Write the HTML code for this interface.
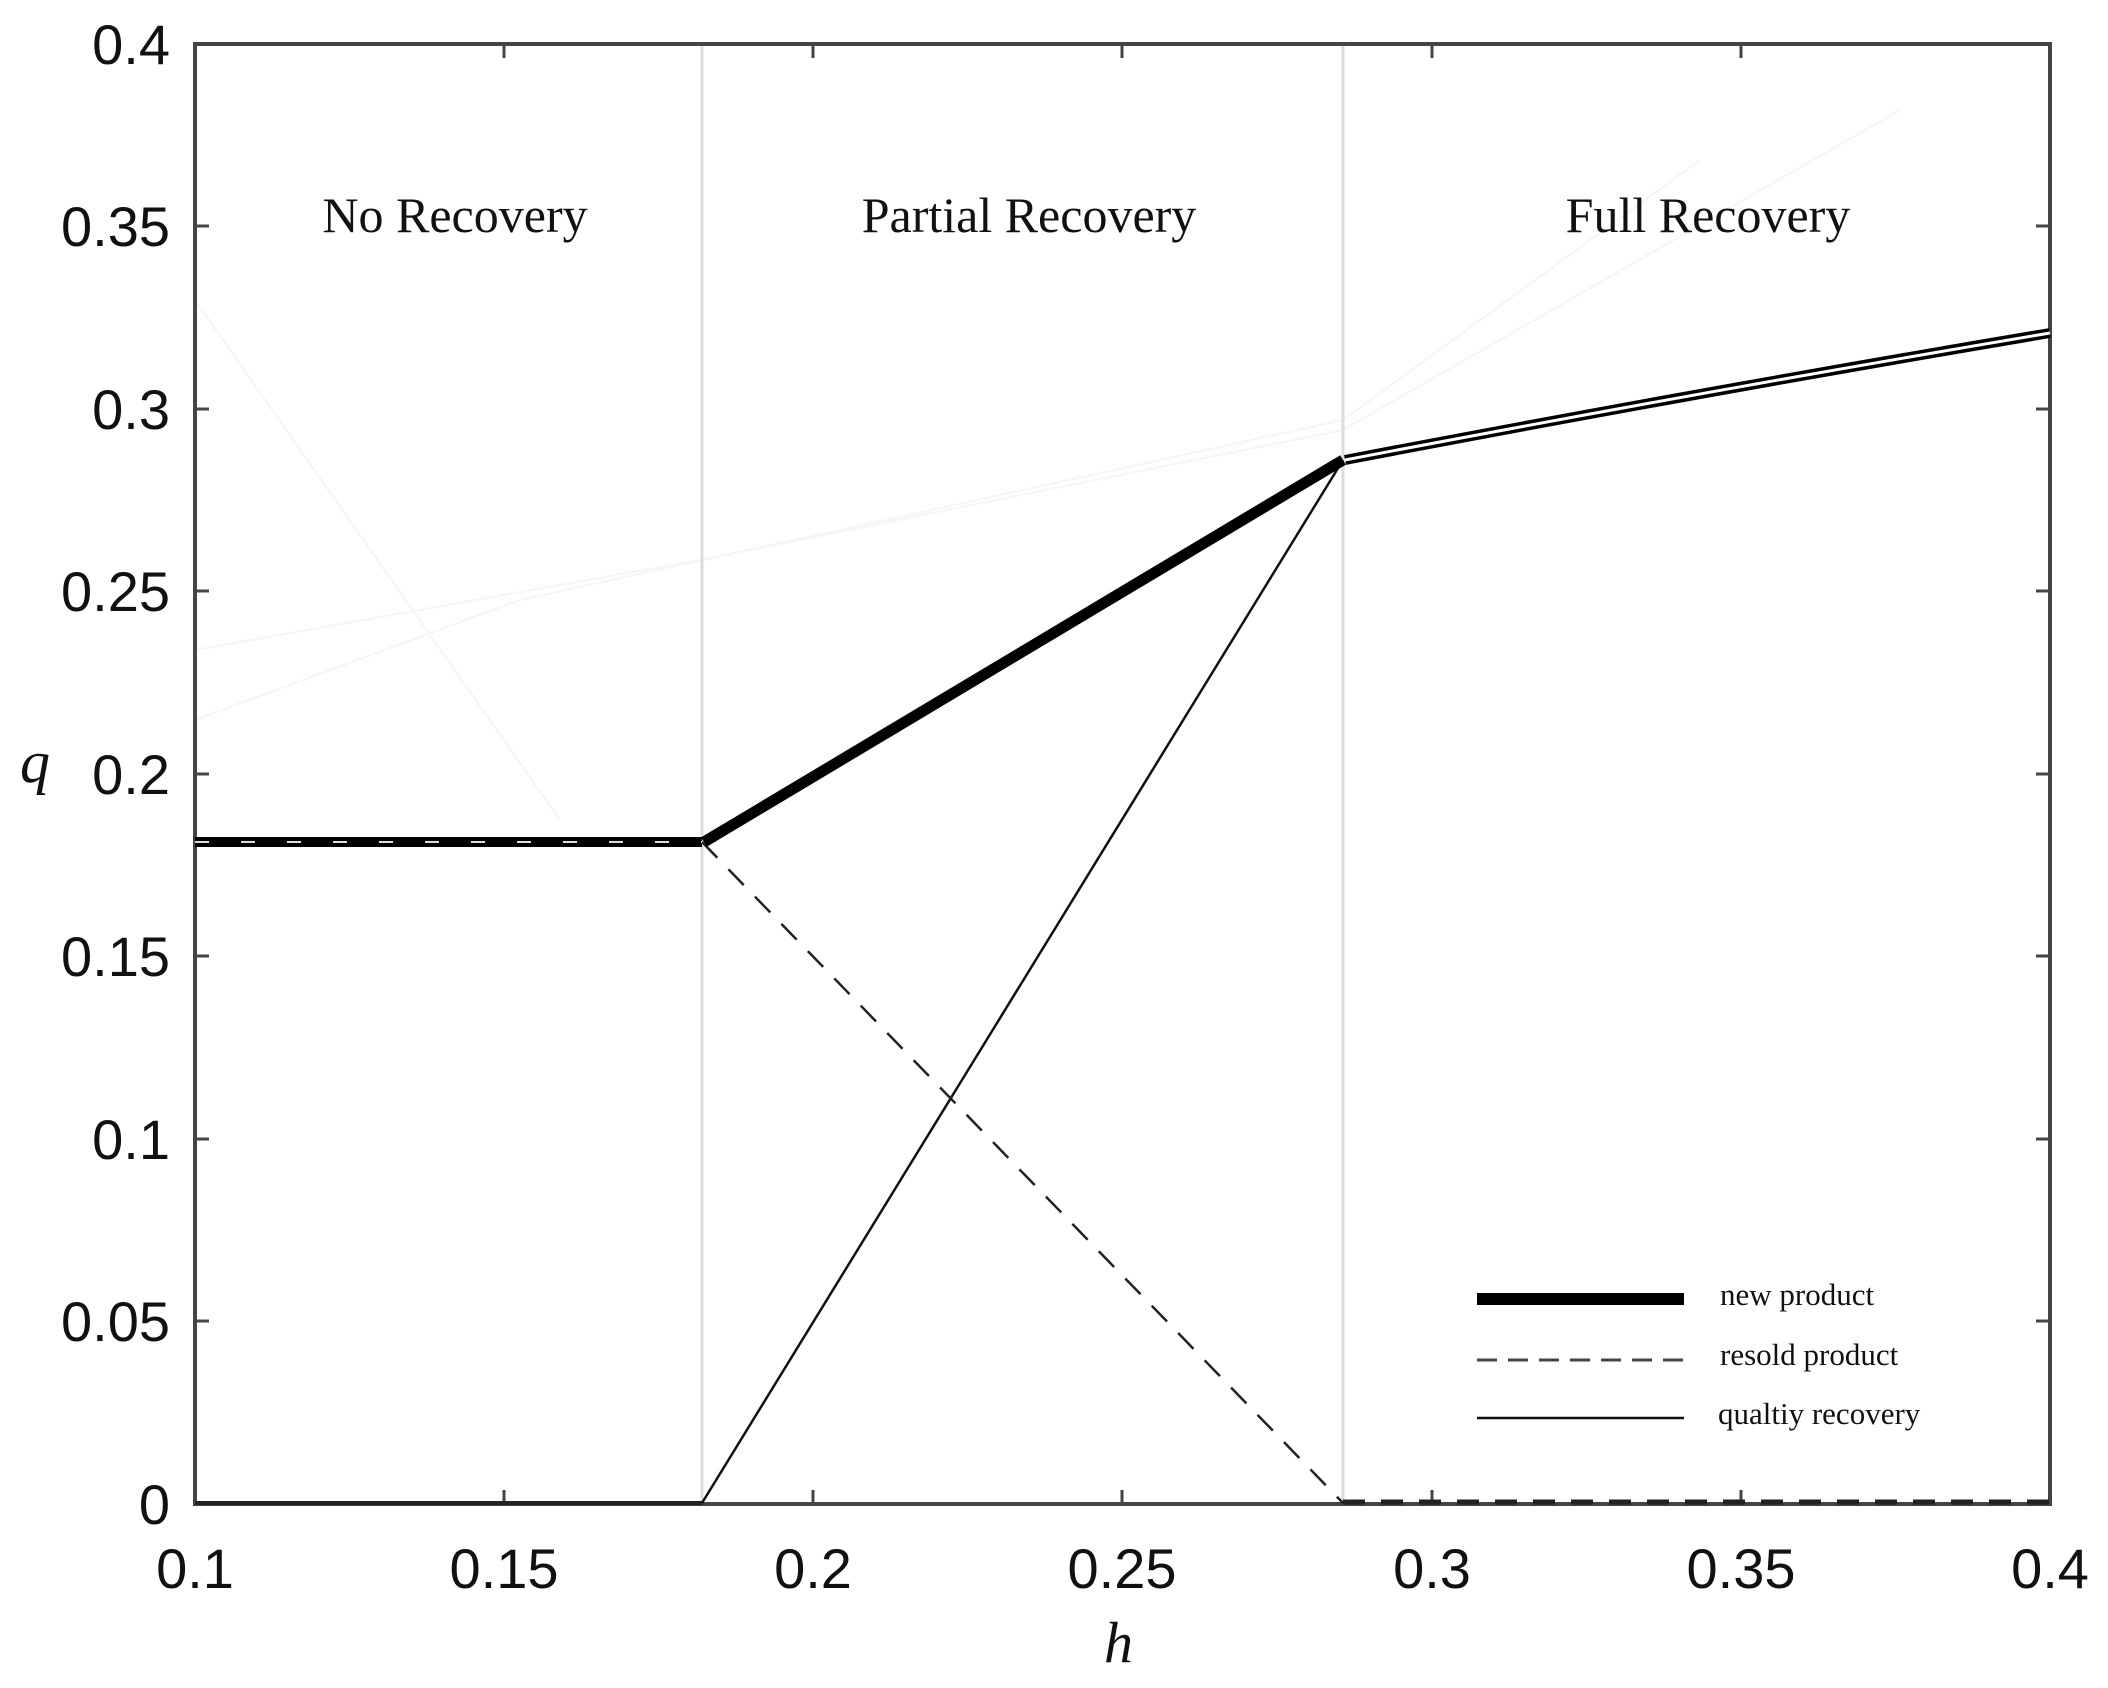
<!DOCTYPE html>
<html><head><meta charset="utf-8"><style>html,body{margin:0;padding:0;background:#fff}svg{display:block}</style></head>
<body>
<svg width="2108" height="1688" viewBox="0 0 2108 1688" xmlns="http://www.w3.org/2000/svg">
<rect width="2108" height="1688" fill="#fff"/>
<g stroke="#f5f5f5" stroke-width="2" fill="none">
<polyline points="195,300 560,820"/>
<polyline points="195,720 520,600 1343,420 1700,160"/>
<polyline points="195,650 700,560 1343,430 1900,110"/>
</g>
<line x1="702" y1="44" x2="702" y2="1504" stroke="#dcdcdc" stroke-width="3"/>
<line x1="1343" y1="44" x2="1343" y2="1504" stroke="#dcdcdc" stroke-width="3"/>
<rect x="195" y="44" width="1855" height="1460" fill="none" stroke="#444" stroke-width="4"/>
<g stroke="#444" stroke-width="3">
<line x1="504" y1="1504" x2="504" y2="1490"/><line x1="504" y1="44" x2="504" y2="58"/>
<line x1="813" y1="1504" x2="813" y2="1490"/><line x1="813" y1="44" x2="813" y2="58"/>
<line x1="1122" y1="1504" x2="1122" y2="1490"/><line x1="1122" y1="44" x2="1122" y2="58"/>
<line x1="1432" y1="1504" x2="1432" y2="1490"/><line x1="1432" y1="44" x2="1432" y2="58"/>
<line x1="1741" y1="1504" x2="1741" y2="1490"/><line x1="1741" y1="44" x2="1741" y2="58"/>
<line x1="195" y1="1321" x2="209" y2="1321"/><line x1="2050" y1="1321" x2="2036" y2="1321"/>
<line x1="195" y1="1139" x2="209" y2="1139"/><line x1="2050" y1="1139" x2="2036" y2="1139"/>
<line x1="195" y1="956" x2="209" y2="956"/><line x1="2050" y1="956" x2="2036" y2="956"/>
<line x1="195" y1="774" x2="209" y2="774"/><line x1="2050" y1="774" x2="2036" y2="774"/>
<line x1="195" y1="591" x2="209" y2="591"/><line x1="2050" y1="591" x2="2036" y2="591"/>
<line x1="195" y1="409" x2="209" y2="409"/><line x1="2050" y1="409" x2="2036" y2="409"/>
<line x1="195" y1="226" x2="209" y2="226"/><line x1="2050" y1="226" x2="2036" y2="226"/>
</g>
<line x1="195" y1="1503" x2="702" y2="1503" stroke="#222" stroke-width="4"/>
<line x1="702" y1="1503" x2="1343" y2="460" stroke="#111" stroke-width="2.5"/>
<line x1="702" y1="842" x2="1343" y2="1503" stroke="#222" stroke-width="2.5" stroke-dasharray="22,16"/>
<line x1="1343" y1="1502" x2="2050" y2="1502" stroke="#222" stroke-width="5" stroke-dasharray="22,16"/>
<line x1="195" y1="842" x2="702" y2="842" stroke="#000" stroke-width="10"/>
<line x1="195" y1="842" x2="702" y2="842" stroke="#ddd" stroke-width="2" stroke-dasharray="14,32"/>
<line x1="704" y1="842" x2="1343" y2="460" stroke="#000" stroke-width="11"/>
<path d="M1345,460 Q1700,392 2050,333" stroke="#000" stroke-width="10" fill="none"/>
<path d="M1345,460 Q1700,392 2050,333" stroke="#fff" stroke-width="3" fill="none"/>
<line x1="1477" y1="1299" x2="1684" y2="1299" stroke="#000" stroke-width="12"/>
<line x1="1477" y1="1360" x2="1684" y2="1360" stroke="#444" stroke-width="3" stroke-dasharray="20,11"/>
<line x1="1477" y1="1418" x2="1684" y2="1418" stroke="#111" stroke-width="2.5"/>
<g font-family="Liberation Serif, serif" font-size="31" fill="#111">
<text x="1720" y="1305">new product</text>
<text x="1720" y="1365">resold product</text>
<text x="1718" y="1424">qualtiy recovery</text>
</g>
<g font-family="Liberation Serif, serif" font-size="50" fill="#111" text-anchor="middle">
<text x="455" y="232">No Recovery</text>
<text x="1029" y="232">Partial Recovery</text>
<text x="1708" y="232">Full Recovery</text>
</g>
<g font-family="Liberation Sans, sans-serif" font-size="56" fill="#111" text-anchor="end">
<text x="170" y="1524">0</text>
<text x="170" y="1341">0.05</text>
<text x="170" y="1159">0.1</text>
<text x="170" y="976">0.15</text>
<text x="170" y="794">0.2</text>
<text x="170" y="611">0.25</text>
<text x="170" y="429">0.3</text>
<text x="170" y="246">0.35</text>
<text x="170" y="64">0.4</text>
</g>
<g font-family="Liberation Sans, sans-serif" font-size="56" fill="#111" text-anchor="middle">
<text x="195" y="1588">0.1</text>
<text x="504" y="1588">0.15</text>
<text x="813" y="1588">0.2</text>
<text x="1122" y="1588">0.25</text>
<text x="1432" y="1588">0.3</text>
<text x="1741" y="1588">0.35</text>
<text x="2050" y="1588">0.4</text>
</g>
<text x="20" y="782" font-family="Liberation Serif, serif" font-style="italic" font-size="60" fill="#111">q</text>
<text x="1104" y="1662" font-family="Liberation Serif, serif" font-style="italic" font-size="58" fill="#111">h</text>
</svg>
</body></html>
